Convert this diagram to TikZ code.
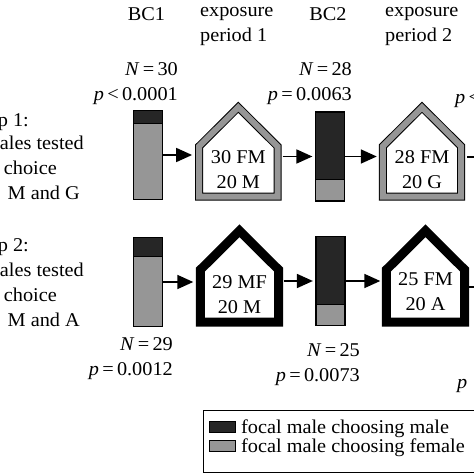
\documentclass[tikz,border=0pt]{standalone}
\usepackage{fontspec}
\setmainfont{Liberation Serif}[FakeStretch=1.04]
\usepackage{tikz}
\usetikzlibrary{arrows.meta, positioning, calc}
\usepackage{xcolor}
\definecolor{darkbar}{RGB}{38,38,38}
\definecolor{graybar}{RGB}{150,150,150}

\tikzset{
  every node/.style={inner sep=0pt, font=\fontsize{19.5}{25}\selectfont},
  bar/.style={draw, line width=1.2pt, fill=graybar, minimum width=29pt, minimum height=89pt,
    path picture={
      \fill[darkbar] (path picture bounding box.north west) rectangle ([yshift=-#1]path picture bounding box.north east);
      \draw[line width=1pt] ([yshift=-#1]path picture bounding box.north west) -- ([yshift=-#1]path picture bounding box.north east);
    }},
  housebody/.style={minimum width=78pt, minimum height=#1},
  housegray/.style={draw=black, line width=1pt, double=graybar, double distance=6pt, fill=white, line join=miter},
  houseblack/.style={draw=black, line width=9pt, fill=white, line join=miter},
  flow/.style={-{Triangle[length=16pt,width=14pt]}, line width=1.7pt},
  keybox/.style={draw, line width=1pt, minimum width=26pt, minimum height=11pt},
}

% outline of a house round a body node
\newcommand{\drawhouse}[2]{%
  \draw[#1] (#2.south west) -- (#2.north west) -- ([yshift=39pt]#2.north) -- (#2.north east) -- (#2.south east) -- cycle;}

\begin{document}
\begin{tikzpicture}[x=1pt, y=-1pt]
  \path[use as bounding box, clip] (0,0) rectangle (474,474);

  % column heads
  \node (hbc1) at (146.5,14) {BC1};
  \node[anchor=west, align=left] (hexp1) at (200,26) {exposure\\period 1};
  \node (hbc2) at (328,14) {BC2};
  \node[anchor=west, align=left] (hexp2) at (385,26) {exposure\\period 2};

  % group texts (cut at the left edge)
  \node[anchor=base east] (g1a) at (29,126) {p 1:};
  \node[anchor=base east] (g1b) at (84,149) {ales tested};
  \node[anchor=base east] (g1c) at (57,174) {choice};
  \node[anchor=base east] (g1d) at (80,199) {M and G};
  \node[anchor=base east] (g2a) at (29,251) {p 2:};
  \node[anchor=base east] (g2b) at (84,276) {ales tested};
  \node[anchor=base east] (g2c) at (57,301) {choice};
  \node[anchor=base east] (g2d) at (80,326) {M and A};

  % group 1
  \node[bar=13pt] (b11) at (148,155) {};
  \node[housebody=50pt] (e11) at (238.3,171.5) {};
  \drawhouse{housegray}{e11}
  \node[yshift=2pt, align=center] (e11t) at (e11) {30 FM\\20 M};
  \node[bar=67pt] (b12) at (330,156.5) {};
  \node[housebody=50pt] (e12) at (422,171.5) {};
  \drawhouse{housegray}{e12}
  \node[yshift=2pt, align=center] (e12t) at (e12) {28 FM\\20 G};
  \coordinate (out1) at (500,157);

  \draw[flow, shorten >=7pt] (b11.east) -- (b11.east -| e11.west);
  \draw[flow, shorten <=5pt, shorten >=2.5pt] (e11.east |- b12.west) -- (b12.west);
  \draw[flow, shorten >=6pt] (b12.east) -- (b12.east -| e12.west);
  \draw[flow, shorten <=6pt] (e12.east |- out1) -- (out1);

  \node[anchor=east, align=right] (s11) at (178,83.5) {\textit{N}\,=\,30\\\textit{p}\,<\,0.0001};
  \node[anchor=east, align=right] (s12) at (352,83.5) {\textit{N}\,=\,28\\\textit{p}\,=\,0.0063};
  \node[anchor=base west] (s13) at (455,103) {\textit{p}\,<};

  % group 2
  \node[bar=19pt] (b21) at (148,282) {};
  \node[housebody=52pt] (e21) at (239.5,296) {};
  \drawhouse{houseblack}{e21}
  \node[yshift=1.5pt, align=center] (e21t) at (e21) {29 MF\\20 M};
  \node[bar=68pt] (b22) at (330.5,281) {};
  \node[housebody=52pt] (e22) at (425.5,296) {};
  \drawhouse{houseblack}{e22}
  \node[yshift=4pt, align=center] (e22t) at (e22) {25 FM\\20 A};
  \coordinate (out2) at (500,287);

  \draw[flow, shorten >=7pt] (b21.east) -- (b21.east -| e21.west);
  \draw[flow, shorten <=5pt, shorten >=2.5pt] (e21.east |- b22.west) -- (b22.west);
  \draw[flow, shorten >=6pt] (b22.east) -- (b22.east -| e22.west);
  \draw[flow, shorten <=4pt] (e22.east |- out2) -- (out2);

  \node[anchor=east, align=right] (s21) at (173,359) {\textit{N}\,=\,29\\\textit{p}\,=\,0.0012};
  \node[anchor=east, align=right] (s22) at (360,365) {\textit{N}\,=\,25\\\textit{p}\,=\,0.0073};
  \node[anchor=base west] (s23) at (457,388) {\textit{p}};

  % key
  \node[draw, line width=1.2pt, anchor=north west, minimum width=292pt, minimum height=62pt] (key) at (203,410) {};
  \node[keybox, fill=darkbar] (kd) at (222,426.5) {};
  \node[anchor=base west] (kdt) at (241,433) {focal male choosing male};
  \node[keybox, fill=graybar] (kg) at (222,446) {};
  \node[anchor=base west] (kgt) at (241,452) {focal male choosing female};
\end{tikzpicture}
\end{document}
